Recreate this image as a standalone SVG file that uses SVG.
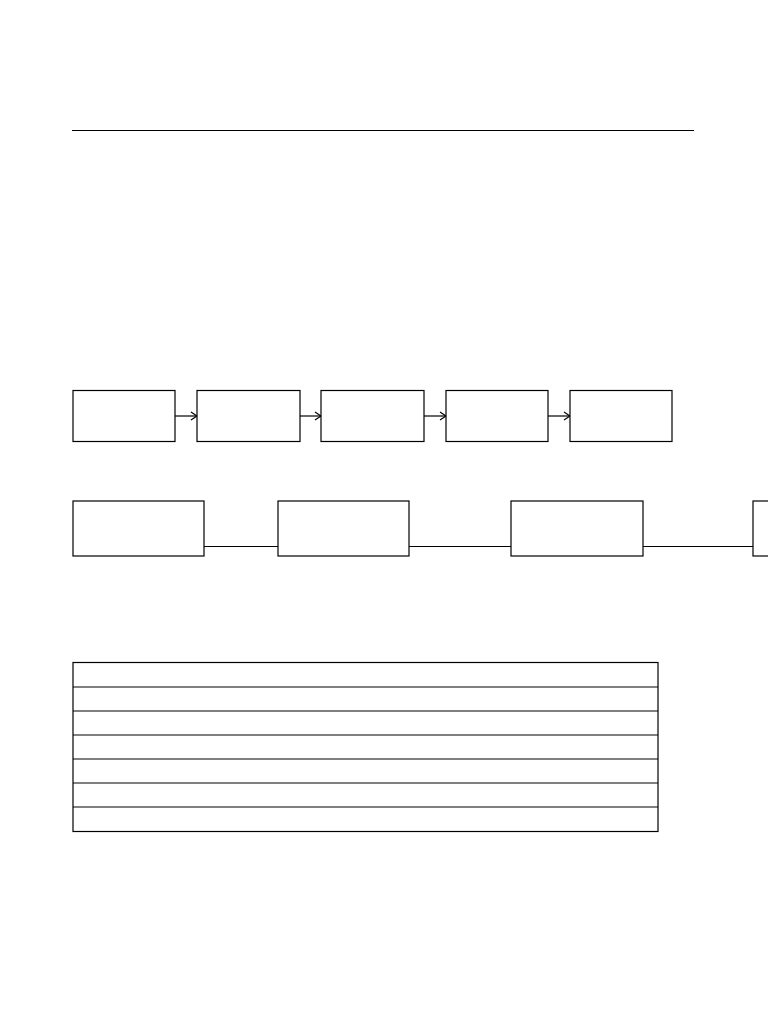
<svg xmlns="http://www.w3.org/2000/svg" width="768" height="1024" viewBox="0 0 768 1024">
<style>
.box{fill:#fff;stroke:#000;stroke-width:1.2}
.ln{stroke:#000;stroke-width:1.2;fill:none}
</style>
<defs>
<marker id="arr" markerWidth="8" markerHeight="10" refX="7" refY="5" orient="auto" markerUnits="userSpaceOnUse">
<path d="M1,1 L7,5 L1,9" fill="none" stroke="#000" stroke-width="1.2"/>
</marker>
</defs>
<rect width="768" height="1024" fill="#fff"/>
<line class="ln" x1="72" y1="130.5" x2="694" y2="130.5"/>
<g id="connectors">
<line class="ln" x1="175" y1="416" x2="197" y2="416" marker-end="url(#arr)"/>
<line class="ln" x1="300" y1="416" x2="321" y2="416" marker-end="url(#arr)"/>
<line class="ln" x1="424" y1="416" x2="446" y2="416" marker-end="url(#arr)"/>
<line class="ln" x1="548" y1="416" x2="570" y2="416" marker-end="url(#arr)"/>
<line class="ln" x1="204" y1="546.5" x2="278" y2="546.5"/>
<line class="ln" x1="409" y1="546.5" x2="511" y2="546.5"/>
<line class="ln" x1="643" y1="546.5" x2="753" y2="546.5"/>
</g>
<g id="n1"><rect class="box" x="73" y="390.5" width="102" height="51"/></g>
<g id="n2"><rect class="box" x="197" y="390.5" width="103" height="51"/></g>
<g id="n3"><rect class="box" x="321" y="390.5" width="103" height="51"/></g>
<g id="n4"><rect class="box" x="446" y="390.5" width="102" height="51"/></g>
<g id="n5"><rect class="box" x="570" y="390.5" width="102" height="51"/></g>
<g id="m1"><rect class="box" x="73" y="501" width="131" height="55"/></g>
<g id="m2"><rect class="box" x="278" y="501" width="131" height="55"/></g>
<g id="m3"><rect class="box" x="511" y="501" width="132" height="55"/></g>
<g id="m4"><rect class="box" x="753" y="501" width="40" height="55"/></g>
<g id="table">
<rect class="box" x="73" y="662.5" width="585" height="169"/>
<line class="ln" x1="73" y1="687" x2="658" y2="687" stroke-width="1.6"/>
<line class="ln" x1="73" y1="711" x2="658" y2="711"/>
<line class="ln" x1="73" y1="735" x2="658" y2="735"/>
<line class="ln" x1="73" y1="759" x2="658" y2="759" stroke-width="1.6"/>
<line class="ln" x1="73" y1="783" x2="658" y2="783"/>
<line class="ln" x1="73" y1="807" x2="658" y2="807"/>
</g>
</svg>
